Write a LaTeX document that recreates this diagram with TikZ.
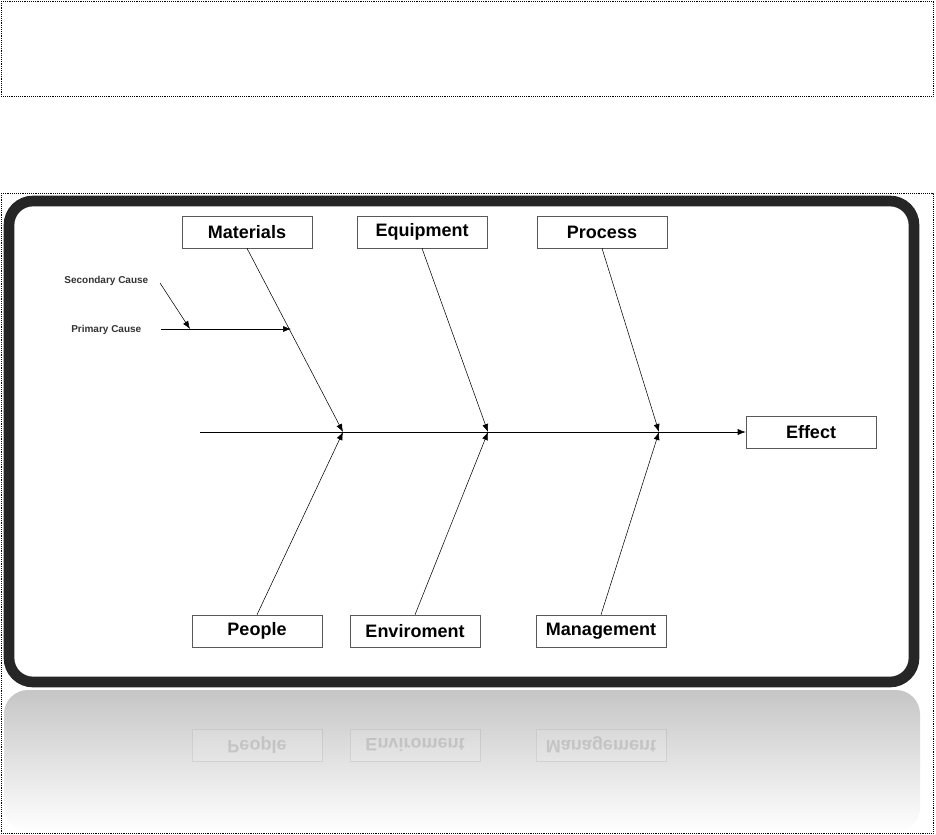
\documentclass[tikz,border=0pt]{standalone}
\usepackage{fontspec}
\setmainfont{Liberation Sans}
\usetikzlibrary{arrows.meta}
\tikzset{
  cat/.style={draw=gray!70!black, fill=white, minimum width=97.5pt, minimum height=24pt, inner sep=0pt, font=\bfseries\fontsize{13.5}{15}\selectfont},
  bone/.style={-{Latex[length=6pt,width=4.5pt]}, thin},
  small/.style={font=\bfseries\fontsize{7.5}{9}\selectfont, text=black!80}
}
\begin{document}
\begin{tikzpicture}[x={(0.75pt,0)}, y={(0,-0.75pt)}]
    \useasboundingbox (0,0) rectangle (936,835);
    % outer dotted frames
    \draw[densely dotted] (1,1) rectangle (933,96);
    \draw[densely dotted] (1,193) rectangle (933,833);
    % reflection
    \shade[top color=gray!45, bottom color=white, rounded corners=18pt] (4,690) rectangle (920,832);
    \begin{scope}[opacity=0.12]
        \node[cat, yscale=-1] (rpeople) at (257,745) {People};
        \node[cat, yscale=-1] (renv)    at (415,745) {Enviroment};
        \node[cat, yscale=-1] (rman)    at (601,745) {Management};
    \end{scope}
    % dark rounded frame
    \draw[line width=8pt, draw=black!85, fill=white, rounded corners=18pt] (9,201) rectangle (914,682);
    % category boxes
    \node[cat] (materials)  at (247,232) {Materials};
    \node[cat] (equipment)  at (422,232) {Equipment};
    \node[cat] (process)    at (602,232) {Process};
    \node[cat] (people)     at (257,631) {People};
    \node[cat] (enviroment) at (415,631) {Enviroment};
    \node[cat] (management) at (601,631) {Management};
    \node[cat] (effect)     at (811,432) {Effect};
    % spine
    \coordinate (tail) at (200,432);
    \coordinate (j1) at (343,432);
    \coordinate (j2) at (488,432);
    \coordinate (j3) at (659,432);
    \draw[bone] (tail) -- (effect.west);
    % bones
    \draw[bone] (materials.south)  -- (j1);
    \draw[bone] (equipment.south)  -- (j2);
    \draw[bone] (process.south)    -- (j3);
    \draw[bone] (people.north)     -- (j1);
    \draw[bone] (enviroment.north) -- (j2);
    \draw[bone] (management.north) -- (j3);
    % primary and secondary cause
    \node[small, anchor=east] (second) at (153,281) {Secondary Cause};
    \node[small, anchor=east] (prim)   at (146,330) {Primary Cause};
    \coordinate (p0) at (161,329);
    \coordinate (p1) at (190,329);
    \coordinate (p2) at (291,329);
    \coordinate (s0) at (160,283);
    \draw[bone] (p0) -- (p2);
    \draw[bone] (s0) -- (p1);
\end{tikzpicture}
\end{document}
